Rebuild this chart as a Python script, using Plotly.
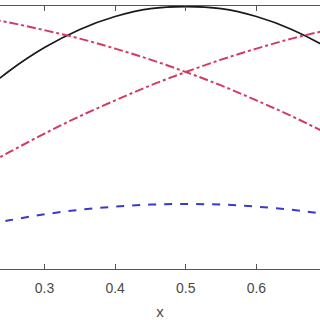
import plotly.graph_objects as go

x = [0.20, 0.25, 0.30, 0.35, 0.40, 0.45, 0.50, 0.55, 0.60, 0.65, 0.70, 0.75, 0.80]
black = [0.644, 0.753, 0.842, 0.911, 0.960, 0.990, 0.998, 0.990, 0.960, 0.911, 0.842, 0.753, 0.644]
red_dec = [0.960, 0.937, 0.908, 0.876, 0.838, 0.796, 0.749, 0.698, 0.641, 0.581, 0.515, 0.444, 0.370]
red_inc = [0.370, 0.444, 0.515, 0.581, 0.641, 0.698, 0.749, 0.796, 0.838, 0.876, 0.908, 0.937, 0.960]
blue = [0.158, 0.185, 0.208, 0.225, 0.237, 0.245, 0.247, 0.245, 0.237, 0.225, 0.208, 0.185, 0.158]
xticks = [0.3, 0.4, 0.5, 0.6, 0.7]

fig = go.Figure()
fig.add_trace(go.Scatter(x=x, y=black, mode="lines", line=dict(color="#1a1a1a", width=1.7, shape="spline")))
fig.add_trace(go.Scatter(x=x, y=red_dec, mode="lines", line=dict(color="#d23a62", width=2, dash="dashdot", shape="spline")))
fig.add_trace(go.Scatter(x=x, y=red_inc, mode="lines", line=dict(color="#d23a62", width=2, dash="dashdot", shape="spline")))
fig.add_trace(go.Scatter(x=x, y=blue, mode="lines", line=dict(color="#3a3ac8", width=2, dash="8px,8px", shape="spline")))

fig.update_layout(
    width=320, height=320,
    margin=dict(l=0, r=0, t=6, b=51),
    plot_bgcolor="white", paper_bgcolor="white",
    showlegend=False,
    font=dict(family="Liberation Sans, Arial", size=14, color="#4a4a4a"),
)
fig.update_xaxes(
    range=[0.237, 0.690], tickvals=xticks, ticktext=[str(v) for v in xticks],
    ticks="inside", ticklen=5, tickcolor="#555555", showline=True, linecolor="#555555", linewidth=1,
    mirror="allticks", showgrid=False, zeroline=False, ticklabelstandoff=6,
    tickfont=dict(size=14, color="#4a4a4a"),
    title=dict(text="x", standoff=12, font=dict(size=15, color="#4a4a4a")),
)
fig.update_yaxes(range=[0, 1.0], showticklabels=False, ticks="", showgrid=False, zeroline=False, showline=False)
fig.write_html("out.html")
